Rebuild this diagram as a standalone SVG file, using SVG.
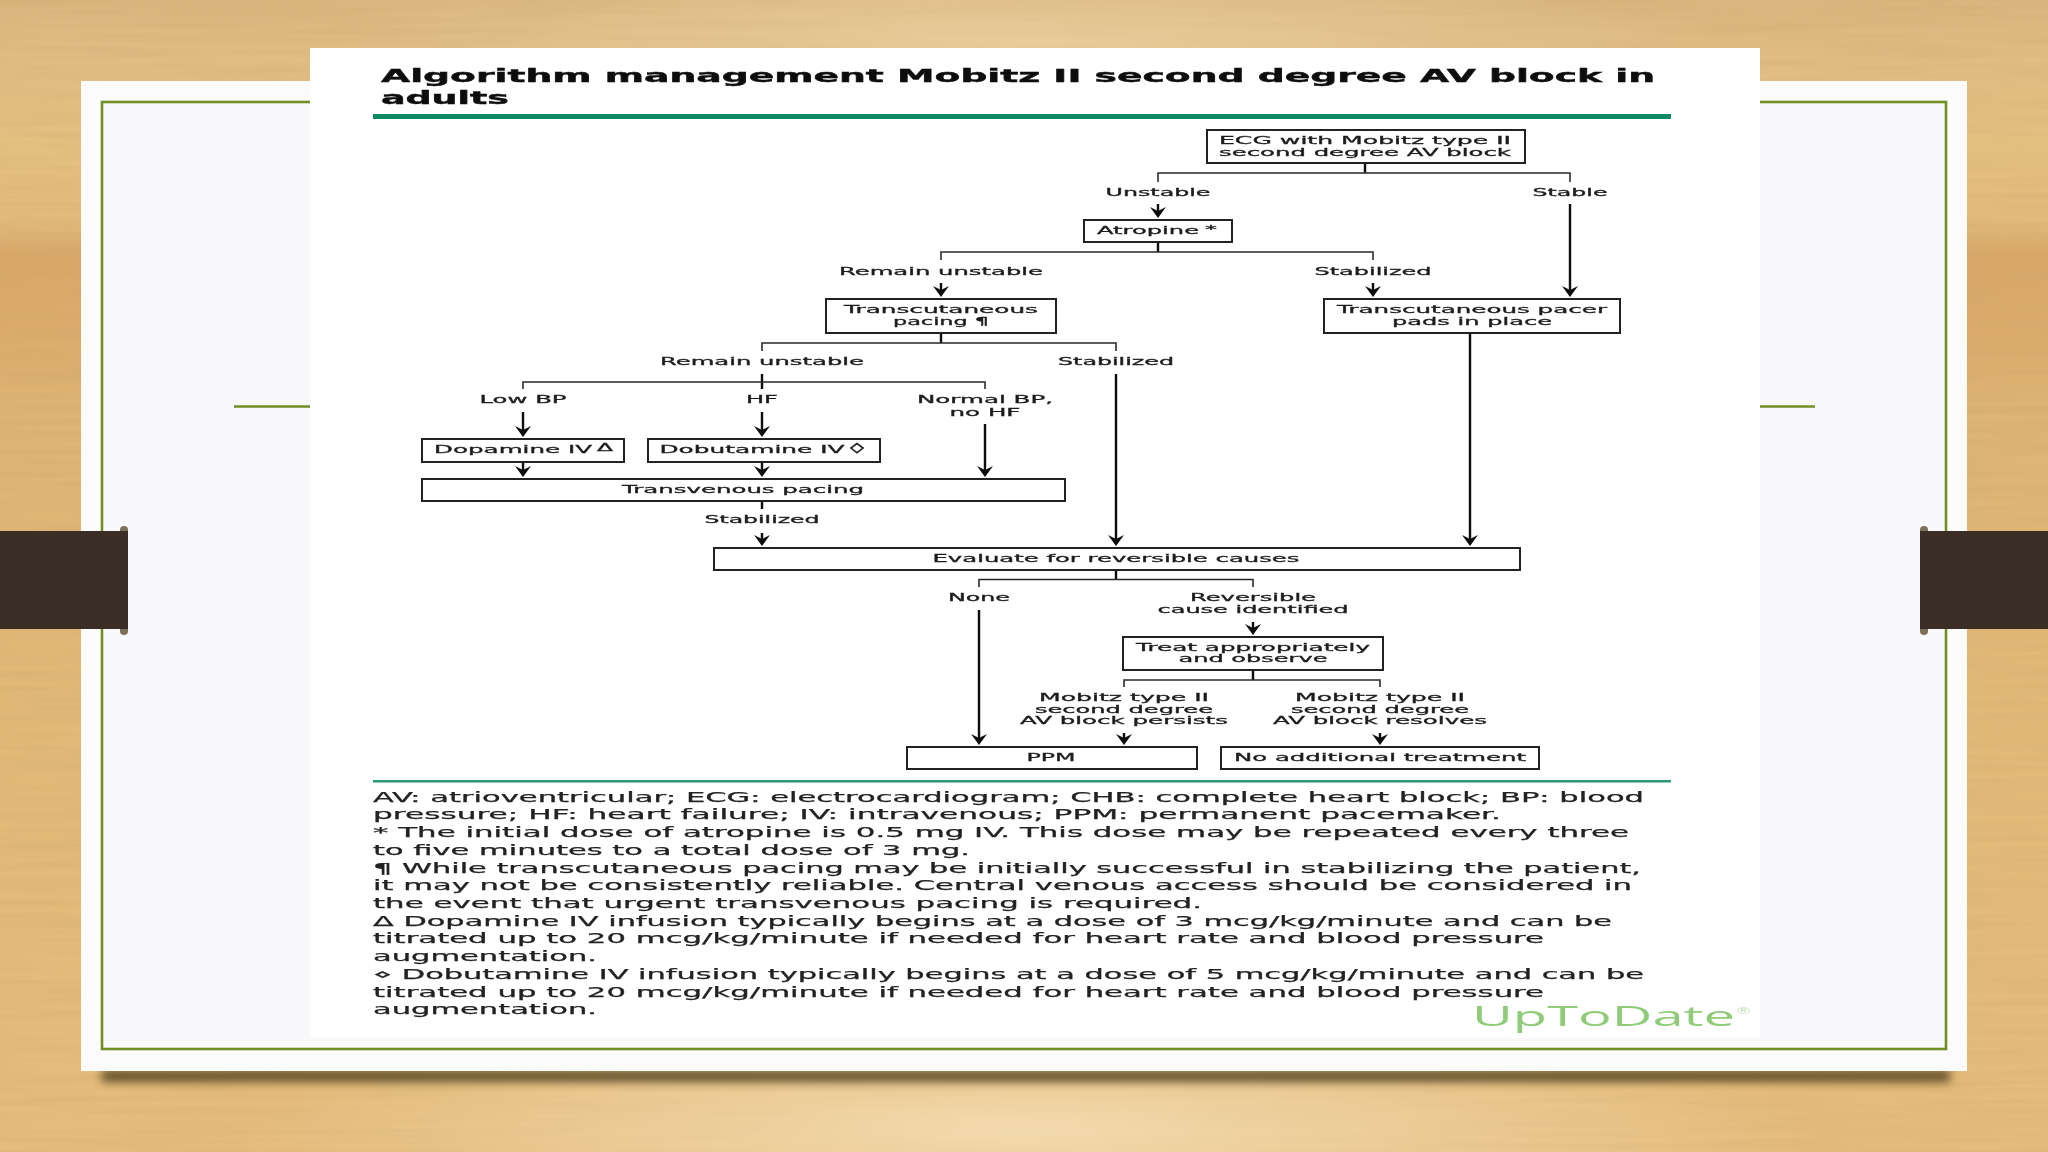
<svg xmlns="http://www.w3.org/2000/svg" width="2048" height="1152" viewBox="0 0 2048 1152">
<defs>
<linearGradient id="wood" x1="0" y1="0" x2="0" y2="1">
<stop offset="0" stop-color="#dab67e"/><stop offset="0.05" stop-color="#e0bd84"/><stop offset="0.12" stop-color="#e5c182"/><stop offset="0.19" stop-color="#e2bc7c"/><stop offset="0.22" stop-color="#d9a868"/><stop offset="0.29" stop-color="#dcac6c"/><stop offset="0.36" stop-color="#dfb474"/><stop offset="0.6" stop-color="#e2b977"/><stop offset="1" stop-color="#e6bc7c"/>
</linearGradient>
<radialGradient id="glowB" cx="0.5" cy="0.5" r="0.5"><stop offset="0" stop-color="#f6e0b8" stop-opacity="0.85"/><stop offset="1" stop-color="#f6e0b8" stop-opacity="0"/></radialGradient>
<filter id="grain" x="0" y="0" width="100%" height="100%"><feTurbulence type="fractalNoise" baseFrequency="0.006 0.14" numOctaves="3" seed="4"/><feColorMatrix values="0 0 0 0 0.55  0 0 0 0 0.36  0 0 0 0 0.14  0.9 0 0 0 -0.28"/></filter>
<filter id="soft" x="-5%" y="-200%" width="110%" height="500%"><feGaussianBlur stdDeviation="5"/></filter>
<filter id="blur" x="0" y="0" width="100%" height="100%"><feGaussianBlur stdDeviation="0.45"/></filter>
<marker id="arrow" markerUnits="userSpaceOnUse" markerWidth="20" markerHeight="20" viewBox="0 0 20 20" refX="10" refY="10" orient="auto"><path d="M2 2 L6 10 L2 18 L13 10 Z" fill="#111"/></marker>
</defs>
<style>
text{font-family:"DejaVu Sans","Liberation Sans",sans-serif;fill:#1c1c1c}
.t{font-size:11px;text-anchor:middle;stroke:#1c1c1c;stroke-width:0.3}
.f{font-size:14px;fill:#222;stroke:#222;stroke-width:0.25}
.h{font-size:17px;font-weight:bold;fill:#0c0c0c;stroke:#0c0c0c;stroke-width:0.4}
.s{font-size:10px;stroke:#1c1c1c;stroke-width:0.3}
.box{fill:#fff;stroke:#222;stroke-width:2}
.c path{fill:none;stroke:#2a2a2a;stroke-width:1.6}
.c line{stroke:#111;stroke-width:2.4}
.a{marker-end:url(#arrow)}
.frame{fill:none;stroke:#6f8f22;stroke-width:2.6}
.band{fill:#3a2e26}
.rivet{fill:#7d6f58}
</style>
<rect width="2048" height="1152" fill="url(#wood)"/>
<rect width="2048" height="1152" filter="url(#grain)" opacity="0.5"/>
<ellipse cx="1024" cy="1130" rx="800" ry="110" fill="url(#glowB)"/>
<ellipse cx="1024" cy="40" rx="700" ry="90" fill="url(#glowB)" opacity="0.55"/>
<rect x="102" y="1070" width="1848" height="12" fill="#4a3c1c" opacity="0.85" filter="url(#soft)"/>
<rect x="81" y="81" width="1886" height="990" fill="#fcfbfc"/>
<rect x="102" y="102" width="1844" height="947" fill="#f9f9fb"/>
<rect x="102" y="102" width="1844" height="947" class="frame"/>
<line x1="234" y1="406.500" x2="320" y2="406.500" class="frame"/>
<line x1="1740" y1="406.500" x2="1815" y2="406.500" class="frame"/>
<rect x="120" y="526" width="8" height="109" rx="4" class="rivet"/>
<rect x="0" y="531" width="128" height="98" class="band"/>
<rect x="1920" y="526" width="8" height="109" rx="4" class="rivet"/>
<rect x="1920" y="531" width="128" height="98" class="band"/>
<rect x="310" y="48" width="1450" height="990" fill="#fff"/>
<g filter="url(#blur)">
<g id="title">
<text class="h" x="381" y="81.500" textLength="1274" lengthAdjust="spacingAndGlyphs">Algorithm management Mobitz II second degree AV block in</text>
<text class="h" x="381" y="103.500" textLength="128" lengthAdjust="spacingAndGlyphs">adults</text>
</g>
<rect x="373" y="114" width="1298" height="5" fill="#0f8a63"/>
<rect x="373" y="780" width="1298" height="2.500" fill="#2a9a74"/>
<g id="connectors" class="c">
<line x1="1365" y1="163" x2="1365" y2="173"/>
<path d="M1158 182V173H1570V182"/>
<line class="a" x1="1158" y1="204" x2="1158" y2="215"/>
<line class="a" x1="1570" y1="204" x2="1570" y2="294"/>
<line x1="1158" y1="242" x2="1158" y2="252"/>
<path d="M941 260V252H1373V260"/>
<line class="a" x1="941" y1="283" x2="941" y2="294"/>
<line class="a" x1="1373" y1="283" x2="1373" y2="294"/>
<line x1="941" y1="333" x2="941" y2="343"/>
<path d="M762 351V343H1116V351"/>
<line x1="762" y1="374" x2="762" y2="389"/>
<path d="M523 389V382H985V389"/>
<line class="a" x1="523" y1="412" x2="523" y2="434"/>
<line class="a" x1="762" y1="412" x2="762" y2="434"/>
<line class="a" x1="985" y1="424" x2="985" y2="474"/>
<line class="a" x1="523" y1="462" x2="523" y2="474"/>
<line class="a" x1="762" y1="462" x2="762" y2="474"/>
<line x1="762" y1="501" x2="762" y2="509"/>
<line class="a" x1="762" y1="533" x2="762" y2="543"/>
<line class="a" x1="1116" y1="374" x2="1116" y2="543"/>
<line class="a" x1="1470" y1="333" x2="1470" y2="543"/>
<line x1="1116" y1="570" x2="1116" y2="579.500"/>
<path d="M979 587V579.500H1253V587"/>
<line class="a" x1="979" y1="610" x2="979" y2="742"/>
<line class="a" x1="1253" y1="622" x2="1253" y2="632"/>
<line x1="1253" y1="670" x2="1253" y2="680"/>
<path d="M1124 687V680H1380V687"/>
<line class="a" x1="1124" y1="733" x2="1124" y2="742"/>
<line class="a" x1="1380" y1="733" x2="1380" y2="742"/>
</g>
<g id="node-ecg"><rect class="box" x="1207" y="130" width="318" height="33"/><text class="t" x="1365" y="144" textLength="292" lengthAdjust="spacingAndGlyphs">ECG with Mobitz type II</text><text class="t" x="1365" y="156" textLength="292" lengthAdjust="spacingAndGlyphs">second degree AV block</text></g>
<g id="label-unstable"><text class="t" x="1158" y="196" textLength="105" lengthAdjust="spacingAndGlyphs">Unstable</text></g>
<g id="label-stable"><text class="t" x="1570" y="196" textLength="75" lengthAdjust="spacingAndGlyphs">Stable</text></g>
<g id="node-atropine"><rect class="box" x="1084" y="220" width="148" height="22"/><text class="t" x="1148" y="234" textLength="102" lengthAdjust="spacingAndGlyphs">Atropine</text><text class="s" x="1205" y="233" textLength="12" lengthAdjust="spacingAndGlyphs">*</text></g>
<g id="label-remain-1"><text class="t" x="941" y="275" textLength="204" lengthAdjust="spacingAndGlyphs">Remain unstable</text></g>
<g id="label-stabilized-1"><text class="t" x="1373" y="275" textLength="117" lengthAdjust="spacingAndGlyphs">Stabilized</text></g>
<g id="node-tcp"><rect class="box" x="826" y="299" width="230" height="34"/><text class="t" x="941" y="313" textLength="194" lengthAdjust="spacingAndGlyphs">Transcutaneous</text><text class="t" x="941" y="325" textLength="96" lengthAdjust="spacingAndGlyphs">pacing ¶</text></g>
<g id="node-pads"><rect class="box" x="1324" y="299" width="296" height="34"/><text class="t" x="1472" y="313" textLength="270" lengthAdjust="spacingAndGlyphs">Transcutaneous pacer</text><text class="t" x="1472" y="325" textLength="160" lengthAdjust="spacingAndGlyphs">pads in place</text></g>
<g id="label-remain-2"><text class="t" x="762" y="365" textLength="204" lengthAdjust="spacingAndGlyphs">Remain unstable</text></g>
<g id="label-stabilized-2"><text class="t" x="1116" y="365" textLength="116" lengthAdjust="spacingAndGlyphs">Stabilized</text></g>
<g id="label-lowbp"><text class="t" x="523" y="403" textLength="87" lengthAdjust="spacingAndGlyphs">Low BP</text></g>
<g id="label-hf"><text class="t" x="762" y="403" textLength="32" lengthAdjust="spacingAndGlyphs">HF</text></g>
<g id="label-normal"><text class="t" x="985" y="403" textLength="136" lengthAdjust="spacingAndGlyphs">Normal BP,</text><text class="t" x="985" y="416" textLength="71" lengthAdjust="spacingAndGlyphs">no HF</text></g>
<g id="node-dopamine"><rect class="box" x="422" y="439" width="202" height="23"/><text class="t" x="513" y="453" textLength="158" lengthAdjust="spacingAndGlyphs">Dopamine IV</text><text class="s" x="597" y="451" textLength="16" lengthAdjust="spacingAndGlyphs">Δ</text></g>
<g id="node-dobutamine"><rect class="box" x="648" y="439" width="232" height="23"/><text class="t" x="752" y="453" textLength="185" lengthAdjust="spacingAndGlyphs">Dobutamine IV</text><text class="s" x="850" y="451" textLength="14" lengthAdjust="spacingAndGlyphs">◊</text></g>
<g id="node-transvenous"><rect class="box" x="422" y="479" width="643" height="22"/><text class="t" x="743" y="493" textLength="242" lengthAdjust="spacingAndGlyphs">Transvenous pacing</text></g>
<g id="label-stabilized-3"><text class="t" x="762" y="523" textLength="115" lengthAdjust="spacingAndGlyphs">Stabilized</text></g>
<g id="node-evaluate"><rect class="box" x="714" y="548" width="806" height="22"/><text class="t" x="1116" y="562" textLength="367" lengthAdjust="spacingAndGlyphs">Evaluate for reversible causes</text></g>
<g id="label-none"><text class="t" x="979" y="601" textLength="62" lengthAdjust="spacingAndGlyphs">None</text></g>
<g id="label-reversible"><text class="t" x="1253" y="601" textLength="126" lengthAdjust="spacingAndGlyphs">Reversible</text><text class="t" x="1253" y="613" textLength="191" lengthAdjust="spacingAndGlyphs">cause identified</text></g>
<g id="node-treat"><rect class="box" x="1123" y="637" width="260" height="33"/><text class="t" x="1253" y="651" textLength="234" lengthAdjust="spacingAndGlyphs">Treat appropriately</text><text class="t" x="1253" y="662" textLength="149" lengthAdjust="spacingAndGlyphs">and observe</text></g>
<g id="label-persists"><text class="t" x="1124" y="701" textLength="170" lengthAdjust="spacingAndGlyphs">Mobitz type II</text><text class="t" x="1124" y="713" textLength="178" lengthAdjust="spacingAndGlyphs">second degree</text><text class="t" x="1124" y="724" textLength="208" lengthAdjust="spacingAndGlyphs">AV block persists</text></g>
<g id="label-resolves"><text class="t" x="1380" y="701" textLength="170" lengthAdjust="spacingAndGlyphs">Mobitz type II</text><text class="t" x="1380" y="713" textLength="178" lengthAdjust="spacingAndGlyphs">second degree</text><text class="t" x="1380" y="724" textLength="214" lengthAdjust="spacingAndGlyphs">AV block resolves</text></g>
<g id="node-ppm"><rect class="box" x="907" y="747" width="290" height="22"/><text class="t" x="1051" y="761" textLength="49" lengthAdjust="spacingAndGlyphs">PPM</text></g>
<g id="node-none"><rect class="box" x="1221" y="747" width="318" height="22"/><text class="t" x="1380" y="761" textLength="292" lengthAdjust="spacingAndGlyphs">No additional treatment</text></g>
<g id="footnotes">
<text class="f" x="373" y="802" textLength="1271" lengthAdjust="spacingAndGlyphs">AV: atrioventricular; ECG: electrocardiogram; CHB: complete heart block; BP: blood</text>
<text class="f" x="373" y="819" textLength="1128" lengthAdjust="spacingAndGlyphs">pressure; HF: heart failure; IV: intravenous; PPM: permanent pacemaker.</text>
<text class="f" x="373" y="837" textLength="1256" lengthAdjust="spacingAndGlyphs">* The initial dose of atropine is 0.5 mg IV. This dose may be repeated every three</text>
<text class="f" x="373" y="855" textLength="597" lengthAdjust="spacingAndGlyphs">to five minutes to a total dose of 3 mg.</text>
<text class="f" x="373" y="873" textLength="1268" lengthAdjust="spacingAndGlyphs">¶ While transcutaneous pacing may be initially successful in stabilizing the patient,</text>
<text class="f" x="373" y="890" textLength="1259" lengthAdjust="spacingAndGlyphs">it may not be consistently reliable. Central venous access should be considered in</text>
<text class="f" x="373" y="908" textLength="829" lengthAdjust="spacingAndGlyphs">the event that urgent transvenous pacing is required.</text>
<text class="f" x="373" y="926" textLength="1239" lengthAdjust="spacingAndGlyphs">Δ Dopamine IV infusion typically begins at a dose of 3 mcg/kg/minute and can be</text>
<text class="f" x="373" y="943" textLength="1171" lengthAdjust="spacingAndGlyphs">titrated up to 20 mcg/kg/minute if needed for heart rate and blood pressure</text>
<text class="f" x="373" y="961" textLength="224" lengthAdjust="spacingAndGlyphs">augmentation.</text>
<text class="f" x="373" y="979" textLength="1271" lengthAdjust="spacingAndGlyphs">⋄ Dobutamine IV infusion typically begins at a dose of 5 mcg/kg/minute and can be</text>
<text class="f" x="373" y="997" textLength="1171" lengthAdjust="spacingAndGlyphs">titrated up to 20 mcg/kg/minute if needed for heart rate and blood pressure</text>
<text class="f" x="373" y="1014" textLength="224" lengthAdjust="spacingAndGlyphs">augmentation.</text>
</g>
<g id="logo">
<text x="1472" y="1026" textLength="263" lengthAdjust="spacingAndGlyphs" style="font-family:'Open Sans','Liberation Sans',sans-serif;font-size:28px;font-weight:400;fill:#8fcb78">UpToDate</text>
<text x="1737" y="1014" style="font-family:'Liberation Sans',sans-serif;font-size:9px;fill:#b5dca6" textLength="13" lengthAdjust="spacingAndGlyphs">®</text>
</g>
</g>
</svg>
